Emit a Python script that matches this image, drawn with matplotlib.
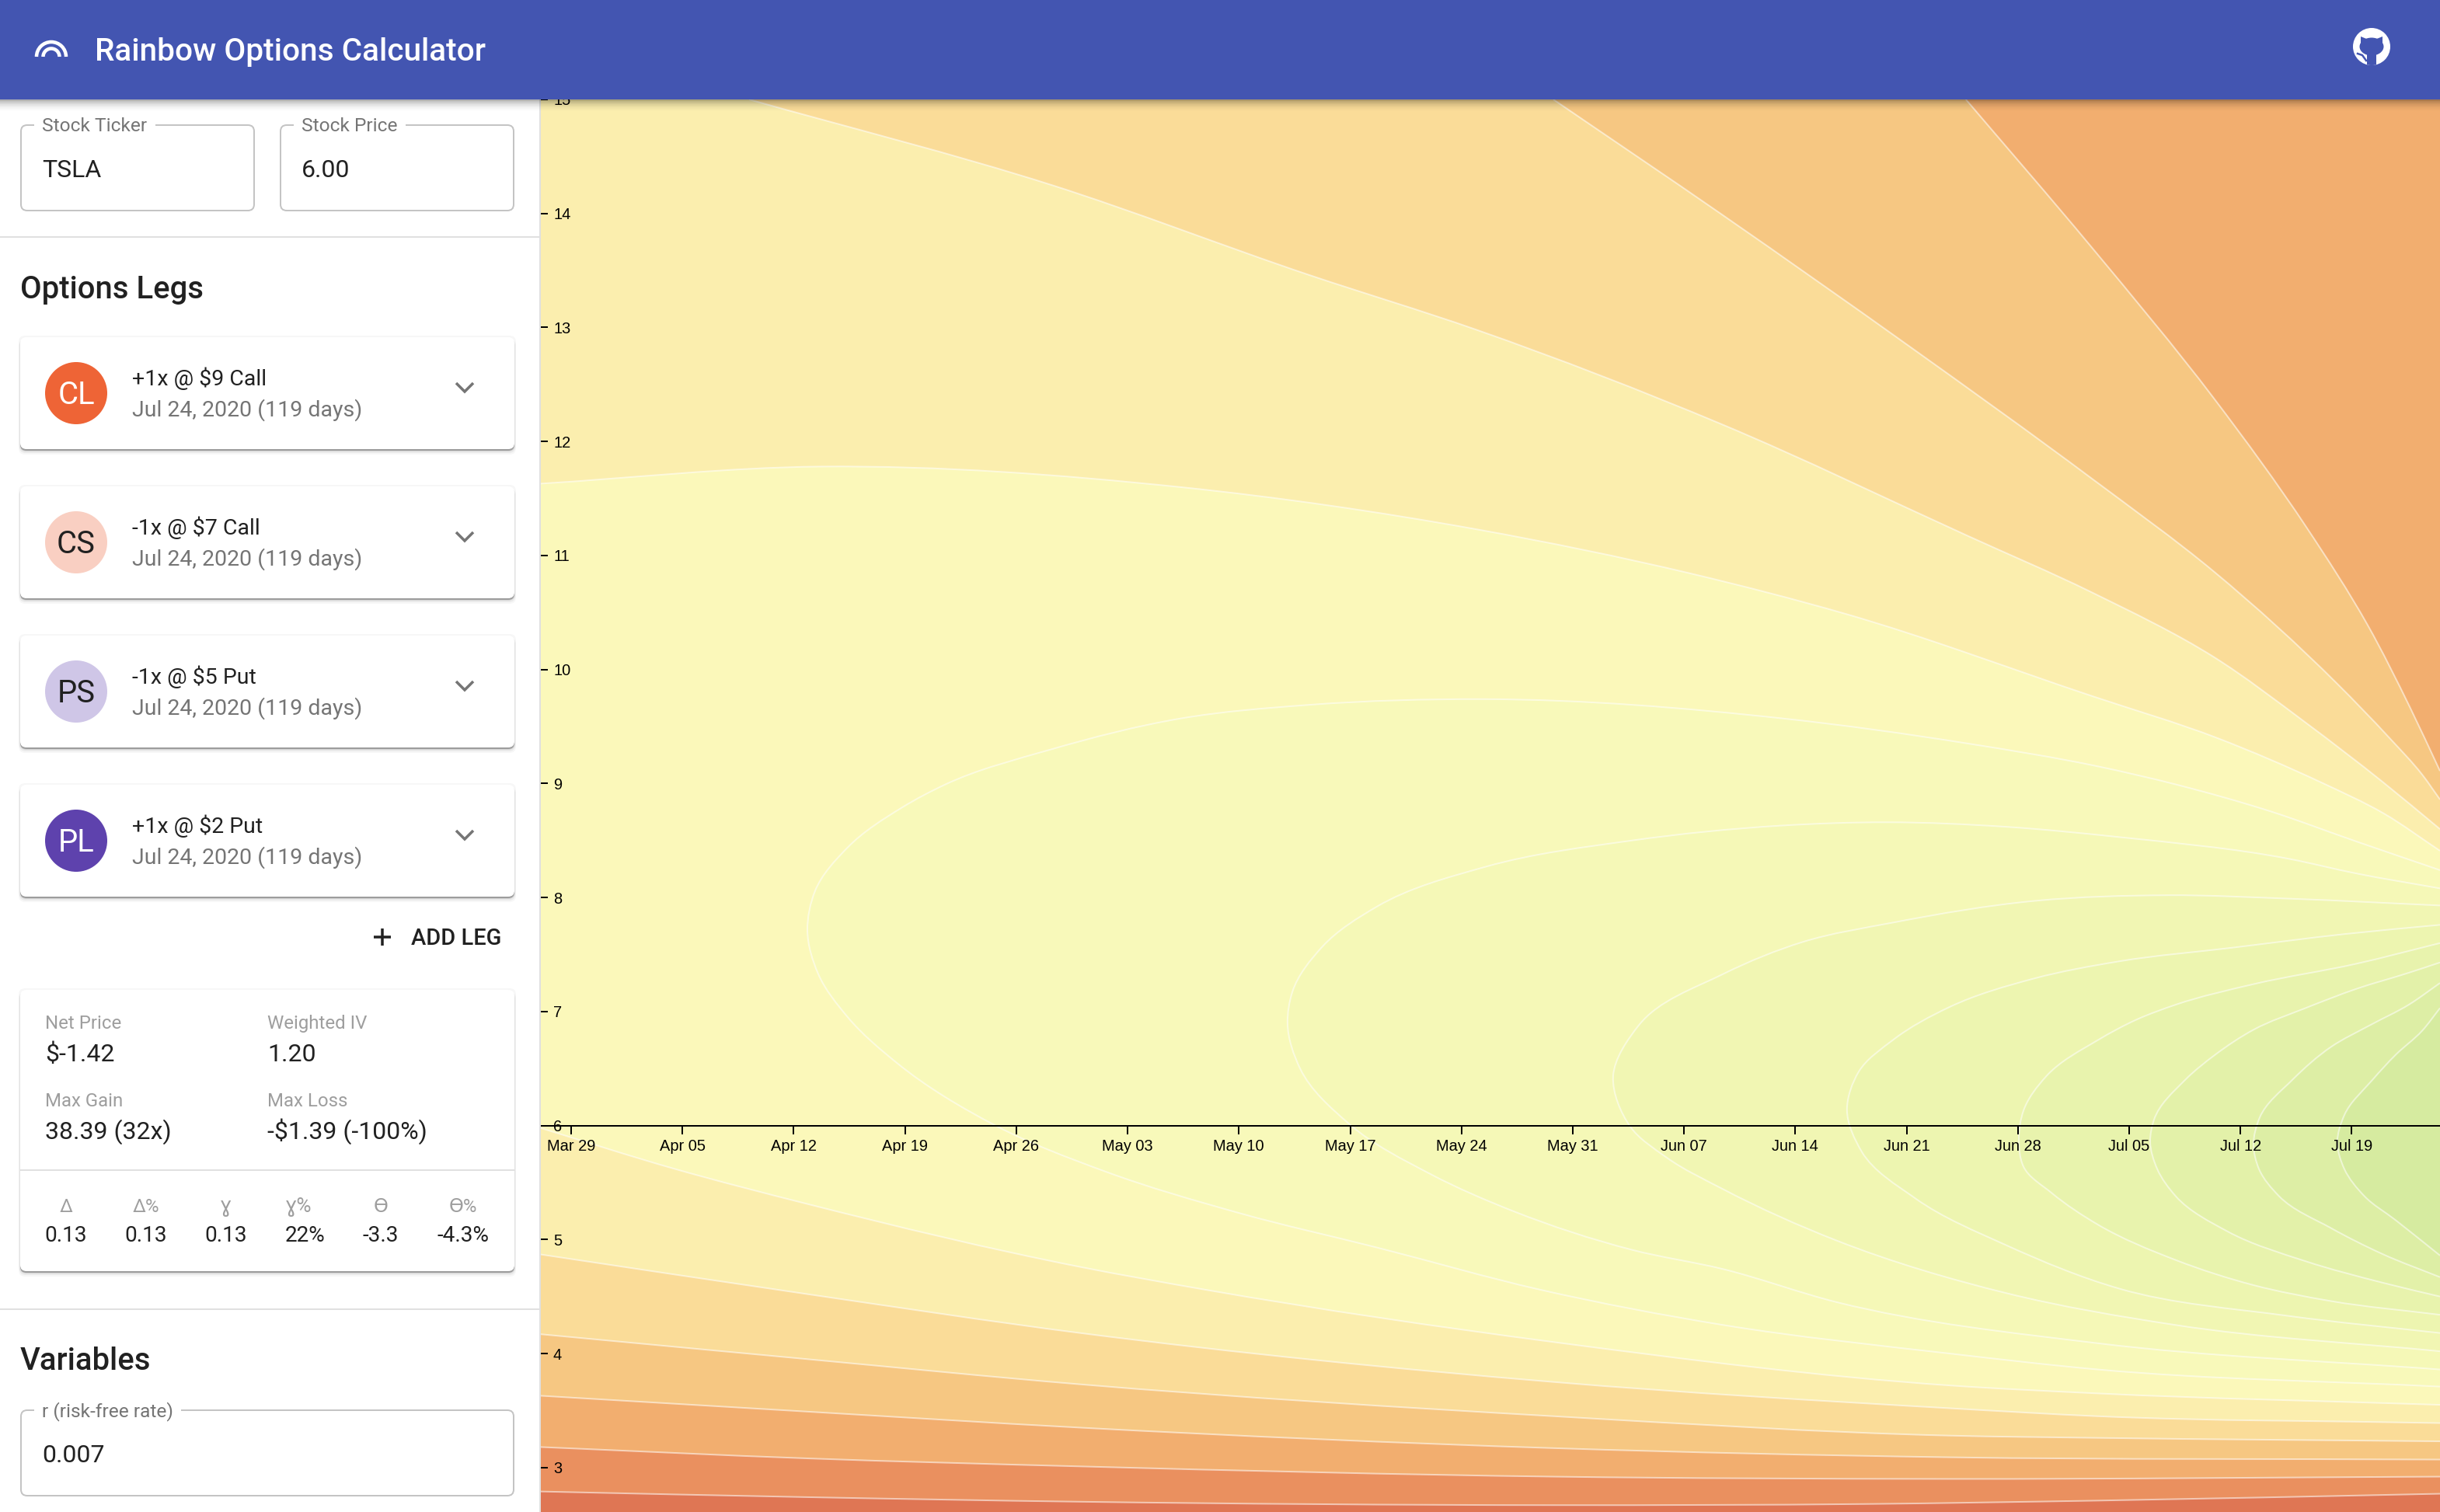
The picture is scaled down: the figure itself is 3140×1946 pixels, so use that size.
#!/usr/bin/env python3
"""Rainbow Options Calculator: profit contour chart with the sidebar next to it."""

import math

import matplotlib

matplotlib.use("Agg")
import matplotlib.pyplot as plt
from matplotlib.patches import Arc, Circle, Ellipse, FancyBboxPatch, PathPatch, Polygon, Rectangle
from matplotlib.path import Path

# contour lines, as (days after Mar 29, stock price)
edge_0_1 = [(-1.96, 2.79), (14.91, 2.74), (32.01, 2.70), (61.83, 2.67), (81.38, 2.68), (96.04, 2.71), (117.55, 2.77)]
edge_1_2 = [(-1.96, 3.18), (14.91, 3.08), (32.01, 3.01), (61.83, 2.92), (86.71, 2.90), (117.55, 2.92)]
low_2_3 = [(-1.96, 3.63), (14.91, 3.49), (32.01, 3.35), (61.83, 3.17), (86.71, 3.09), (117.55, 3.07)]
low_3_4 = [(-1.96, 4.17), (14.91, 3.95), (32.01, 3.73), (61.83, 3.45), (86.71, 3.28), (96.04, 3.26), (117.55, 3.23)]
low_4_5 = [(-1.96, 4.87), (14.91, 4.52), (32.01, 4.18), (61.83, 3.75), (86.71, 3.52), (96.04, 3.45), (117.55, 3.39)]
low_5_6 = [(-1.96, 5.98), (6.50, 5.62), (14.91, 5.31), (32.01, 4.76), (39.88, 4.56), (61.83, 4.10), (86.71, 3.72), (96.04, 3.65), (117.55, 3.55)]

high_2_3 = [(87.73, 15.0), (95.60, 13.71), (103.32, 12.38), (109.14, 11.25), (113.0, 10.39), (115.69, 9.66), (117.55, 9.11)]
high_3_4 = [(61.78, 15.0), (72.39, 13.99), (84.02, 12.85), (95.60, 11.68), (103.32, 10.86), (111.05, 9.88), (114.37, 9.40), (116.42, 9.08), (117.55, 8.86)]
high_4_5 = [(11.20, 15.0), (30.21, 14.25), (46.43, 13.46), (56.94, 12.98), (72.39, 12.15), (87.88, 11.17), (95.60, 10.68), (103.32, 10.11), (109.14, 9.53), (113.98, 9.01), (117.55, 8.60)]
high_5_6 = [(-1.96, 11.63), (15.64, 11.78), (38.32, 11.60), (56.94, 11.23), (70.48, 10.84), (80.11, 10.49), (95.60, 9.77), (103.52, 9.40), (110.07, 9.01), (113.98, 8.74), (117.55, 8.41)]

loop_6_7 = [(117.55, 8.24), (112.32, 8.49), (106.79, 8.76), (100.98, 8.99), (96.04, 9.15), (87.88, 9.35), (76.25, 9.57),
            (57.38, 9.74), (46.43, 9.69), (38.32, 9.57), (30.21, 9.30), (23.51, 8.99), (20.82, 8.79), (17.40, 8.44),
            (15.35, 8.06), (14.86, 7.71), (15.54, 7.33), (17.40, 6.95), (20.48, 6.55), (26.69, 6.00), (33.53, 5.60),
            (42.08, 5.23), (50.68, 4.93), (60.95, 4.56), (72.48, 4.25), (86.71, 4.00), (96.04, 3.86), (117.55, 3.71)]
loop_7_8 = [(117.55, 8.08), (112.32, 8.21), (108.02, 8.34), (97.36, 8.53), (90.27, 8.62), (82.80, 8.66), (76.03, 8.63),
            (66.72, 8.50), (57.53, 8.27), (50.68, 7.92), (47.26, 7.57), (45.36, 7.17), (45.06, 6.90), (45.85, 6.50),
            (48.97, 6.01), (54.11, 5.57), (59.24, 5.25), (66.72, 4.91), (72.48, 4.74), (79.62, 4.45), (96.04, 4.09), (117.55, 3.86)]
loop_8_9 = [(117.55, 7.93), (108.02, 7.99), (100.59, 8.02), (92.03, 7.97), (83.14, 7.78), (77.47, 7.61), (72.48, 7.33),
            (67.16, 6.88), (65.54, 6.43), (66.62, 5.99), (68.90, 5.72), (72.48, 5.44), (79.62, 4.99), (90.27, 4.53),
            (100.93, 4.25), (117.55, 4.02)]
loop_9_10 = [(117.55, 7.76), (111.60, 7.68), (104.50, 7.56), (97.36, 7.44), (92.03, 7.29), (86.71, 7.04), (83.14, 6.75),
             (80.98, 6.47), (80.25, 6.14), (81.18, 5.77), (84.56, 5.36), (90.27, 4.95), (97.36, 4.57), (108.02, 4.33), (117.55, 4.18)]
loop_10_11 = [(117.55, 7.60), (112.32, 7.42), (105.82, 7.24), (100.93, 7.06), (98.48, 6.93), (96.04, 6.75), (92.77, 6.43), (91.35, 6.13),
              (91.06, 5.89), (91.35, 5.64), (93.11, 5.41), (96.04, 5.13), (100.93, 4.82), (105.82, 4.60), (110.70, 4.46), (117.55, 4.34)]
loop_11_12 = [(117.55, 7.43), (115.59, 7.34), (112.32, 7.20), (109.09, 7.03), (105.82, 6.84), (103.40, 6.62), (101.52, 6.40),
              (99.56, 6.05), (99.32, 5.86), (99.76, 5.62), (100.93, 5.38), (104.20, 5.07), (109.09, 4.81), (113.98, 4.62), (117.55, 4.50)]
loop_12_13 = [(117.55, 7.25), (115.59, 7.06), (113.15, 6.88), (110.70, 6.69), (108.26, 6.40), (106.21, 6.07), (105.82, 5.83),
              (106.16, 5.62), (107.43, 5.38), (110.70, 5.10), (113.98, 4.87), (117.55, 4.67)]
loop_13_14 = [(117.55, 7.03), (116.42, 6.83), (114.76, 6.62), (113.30, 6.40), (111.53, 6.09), (111.09, 5.85), (111.53, 5.62),
              (112.80, 5.38), (114.76, 5.17), (117.55, 4.86)]

band_colors = ["#df7654", "#ea905f", "#f2ae6f", "#f6c782", "#fadc98", "#fbeeae", "#fbf8ba", "#f8f9ba",
               "#f5f8b7", "#f1f6b3", "#edf5b0", "#e8f3ad", "#e3f1a9", "#ddeea5", "#d6eba0"]

x_ticks = [0, 7, 14, 21, 28, 35, 42, 49, 56, 63, 70, 77, 84, 91, 98, 105, 112]
x_labels = ["Mar 29", "Apr 05", "Apr 12", "Apr 19", "Apr 26", "May 03", "May 10", "May 17", "May 24",
            "May 31", "Jun 07", "Jun 14", "Jun 21", "Jun 28", "Jul 05", "Jul 12", "Jul 19"]
y_ticks = [3, 4, 5, 6, 7, 8, 9, 10, 11, 12, 13, 14, 15]

leg_titles = ["+1x @ $9 Call", "-1x @ $7 Call", "-1x @ $5 Put", "+1x @ $2 Put"]
leg_dates = ["Jul 24, 2020 (119 days)"] * 4
leg_badges = ["CL", "CS", "PS", "PL"]
leg_badge_colors = ["#ee6436", "#f9cfc2", "#cfc6e7", "#5e42ad"]
leg_badge_text = ["#ffffff", "#212121", "#212121", "#ffffff"]

greek_names = ["Δ", "Δ%", "ɣ", "ɣ%", "ϴ", "ϴ%"]
greek_values = ["0.13", "0.13", "0.13", "22%", "-3.3", "-4.3%"]
greek_name_x = [85, 188, 291, 384, 490, 596]
greek_value_x = [85, 188, 291, 393, 490, 596]

PX = 72 / 200  # points per output pixel
Y_STRETCH = 146.7 / 20.46  # one price unit against one day, on screen
UI_FONT = ["Roboto", "DejaVu Sans"]
INDIGO = "#4355b1"
DARK = "#212121"
GREY = "#757575"
LIGHT = "#9e9e9e"


def chord(a, b):
    return math.hypot(b[0] - a[0], (b[1] - a[1]) * Y_STRETCH) or 1.0


def curve_parts(points):
    """Smooth bezier through the read points, tangents weighted by on-screen spacing."""
    n = len(points)
    tangents = []
    for i in range(n):
        a = points[max(i - 1, 0)]
        b = points[i]
        c = points[min(i + 1, n - 1)]
        h0, h1 = chord(a, b), chord(b, c)
        if i == 0 or i == n - 1:
            h = chord(a, c)
            tangents.append(((c[0] - a[0]) / h, (c[1] - a[1]) / h))
        else:
            tangents.append(tuple(((b[k] - a[k]) / h0 * h1 + (c[k] - b[k]) / h1 * h0) / (h0 + h1) for k in (0, 1)))
    verts, codes = [], []
    for i in range(n - 1):
        p1, p2 = points[i], points[i + 1]
        h = chord(p1, p2)
        c1 = (p1[0] + tangents[i][0] * h / 3, p1[1] + tangents[i][1] * h / 3)
        c2 = (p2[0] - tangents[i + 1][0] * h / 3, p2[1] - tangents[i + 1][1] * h / 3)
        verts += [c1, c2, p2]
        codes += [Path.CURVE4] * 3
    return verts, codes


def build_path(*pieces):
    verts, codes = [], []
    for points in pieces:
        verts.append(points[0])
        codes.append(Path.LINETO if verts[:-1] else Path.MOVETO)
        v, c = curve_parts(points)
        verts += v
        codes += c
    return Path(verts, codes)


fig = plt.figure(figsize=(15.7, 9.73), dpi=200, facecolor="white")

# ---- chart ----
ax = fig.add_axes([695 / 3140, 0, 1 - 695 / 3140, 1 - 128 / 1946])
ax.set_xlim(-1.955, 117.55)
ax.set_ylim(2.61, 15.0)
ax.set_facecolor(band_colors[0])
ax.set_axisbelow(False)

x0, x1 = ax.get_xlim()
y0, y1 = ax.get_ylim()
top_left = [(x0, y1)]
top_right = [(x1, y1)]

regions = [
    build_path(edge_0_1, top_right, top_left),
    build_path(edge_1_2, top_right, top_left),
    build_path(low_2_3, high_2_3[::-1], top_left),
    build_path(low_3_4, high_3_4[::-1], top_left),
    build_path(low_4_5, high_4_5[::-1], top_left),
    build_path(low_5_6, high_5_6[::-1]),
    build_path(loop_6_7),
    build_path(loop_7_8),
    build_path(loop_8_9),
    build_path(loop_9_10),
    build_path(loop_10_11),
    build_path(loop_11_12),
    build_path(loop_12_13),
    build_path(loop_13_14),
]
for k, region in enumerate(regions):
    ax.add_patch(PathPatch(region, facecolor=band_colors[k + 1], edgecolor="none", zorder=1 + k * 0.01))

for line in [edge_0_1, edge_1_2, low_2_3, low_3_4, low_4_5, low_5_6, high_2_3, high_3_4, high_4_5, high_5_6,
             loop_6_7, loop_7_8, loop_8_9, loop_9_10, loop_10_11, loop_11_12, loop_12_13, loop_13_14]:
    ax.add_patch(PathPatch(build_path(line), fill=False, edgecolor="white", alpha=0.55, lw=2 * PX, zorder=1.5))

for name in ["top", "right", "left"]:
    ax.spines[name].set_visible(False)
ax.spines["bottom"].set_position(("data", 6))
ax.spines["bottom"].set_linewidth(2 * PX)

ax.set_xticks(x_ticks)
ax.set_xticklabels(x_labels, family="Liberation Sans", fontsize=20 * PX)
ax.tick_params(axis="x", length=11.5 * PX, width=2 * PX, pad=6 * PX)
ax.set_yticks(y_ticks)
ax.set_yticklabels([str(v) for v in y_ticks], family="Liberation Sans", fontsize=20 * PX, ha="left")
ax.tick_params(axis="y", direction="in", length=10 * PX, width=2 * PX, pad=-17 * PX)

# ---- page chrome, in output pixels ----
ui = fig.add_axes([0, 0, 1, 1], zorder=5)
ui.set_xlim(0, 3140)
ui.set_ylim(1946, 0)
ui.axis("off")


def text(x, y, s, px, color=DARK, weight="normal", ha="left"):
    ui.text(x, y, s, fontsize=px * PX, color=color, fontweight=weight, ha=ha, va="baseline", family=UI_FONT)


def rounded(x, y, w, h, radius=8, **kw):
    ui.add_patch(FancyBboxPatch((x, y), w, h, boxstyle=f"round,pad=0,rounding_size={radius}", **kw))


def card(x, y, w, h):
    for dy, grow, alpha in [(5, 2, 0.03), (4, 1, 0.05), (3, 0, 0.10), (2, 0, 0.22), (0, 2, 0.03)]:
        rounded(x - grow, y + dy - grow, w + 2 * grow, h + 2 * grow, facecolor="black", edgecolor="none", alpha=alpha)
    rounded(x, y, w, h, facecolor="white", edgecolor="none")


def field(x, y, w, h, label, value, gap):
    rounded(x, y, w, h, facecolor="white", edgecolor="#c4c4c4", lw=2 * PX)
    ui.add_patch(Rectangle((gap[0], y - 3), gap[1] - gap[0], 6, facecolor="white", edgecolor="none"))
    text(x + 27, y + 8, label, 24.5, GREY)
    text(x + 27, y + 67, value, 32)


ui.add_patch(Rectangle((0, 128), 695, 1818, facecolor="white", edgecolor="none"))
ui.add_patch(Rectangle((694, 128), 2, 1818, facecolor="#e0e0e0", edgecolor="none"))

field(27, 161, 300, 110, "Stock Ticker", "TSLA", (44, 200))
field(361, 161, 300, 110, "Stock Price", "6.00", (378, 522))
ui.add_patch(Rectangle((0, 304), 694, 2, facecolor="#e0e0e0", edgecolor="none"))

text(26, 384, "Options Legs", 40, weight="medium")

for i, title in enumerate(leg_titles):
    top = 434 + 192 * i
    card(26, top, 636, 144)
    ui.add_patch(Circle((98, top + 72), 40, facecolor=leg_badge_colors[i], edgecolor="none"))
    ui.text(98, top + 86, leg_badges[i], fontsize=40 * PX, color=leg_badge_text[i], ha="center", va="baseline", family=UI_FONT)
    text(170, top + 62, title, 28.5)
    text(170, top + 102, leg_dates[i], 28.5, GREY)
    ui.plot([587, 598, 609], [top + 59, top + 70, top + 59], color=GREY, lw=3.5 * PX, solid_capstyle="butt", solid_joinstyle="miter")

ui.plot([481, 503], [1206, 1206], color=DARK, lw=3.5 * PX, solid_capstyle="butt")
ui.plot([492, 492], [1195, 1217], color=DARK, lw=3.5 * PX, solid_capstyle="butt")
text(529, 1216, "ADD LEG", 29, weight="medium")

card(26, 1274, 636, 362)
text(58, 1324, "Net Price", 24, LIGHT)
text(58, 1366, "$-1.42", 32)
text(344, 1324, "Weighted IV", 24, LIGHT)
text(344, 1366, "1.20", 32)
text(58, 1424, "Max Gain", 24, LIGHT)
text(58, 1466, "38.39 (32x)", 32)
text(344, 1424, "Max Loss", 24, LIGHT)
text(344, 1466, "-$1.39 (-100%)", 32)
ui.add_patch(Rectangle((26, 1505), 636, 2, facecolor="#e0e0e0", edgecolor="none"))
for nx, vx, name, value in zip(greek_name_x, greek_value_x, greek_names, greek_values):
    text(nx, 1560, name, 26 if "ɣ" in name else 24, LIGHT, ha="center")
    text(vx, 1598, value, 28, ha="center")

ui.add_patch(Rectangle((0, 1684), 694, 2, facecolor="#e0e0e0", edgecolor="none"))
text(26, 1763, "Variables", 40, weight="medium")
field(27, 1815, 634, 110, "r (risk-free rate)", "0.007", (44, 233))

# header with its soft shadow over the page
for i, alpha in enumerate([0.30, 0.22, 0.16, 0.11, 0.07, 0.04, 0.02]):
    ui.add_patch(Rectangle((0, 128 + i * 2), 3140, 2, facecolor="black", edgecolor="none", alpha=alpha))
ui.add_patch(Rectangle((0, 0), 3140, 128, facecolor=INDIGO, edgecolor="none"))
text(122, 78, "Rainbow Options Calculator", 40.5, "white", weight="medium")
ui.add_patch(Arc((66, 73), 38, 38, theta1=180, theta2=360, color="white", lw=4.5 * PX))
ui.add_patch(Arc((66, 73), 21, 21, theta1=180, theta2=360, color="white", lw=4.5 * PX))

# github mark
disc = Circle((3052, 60), 24, facecolor="white", edgecolor="none")
ui.add_patch(disc)
cat = [
    Ellipse((3052, 60), 31, 23, facecolor=INDIGO, edgecolor="none"),
    Polygon([(3038, 47), (3048, 51), (3038, 58)], facecolor=INDIGO, edgecolor="none"),
    Polygon([(3066, 47), (3056, 51), (3066, 58)], facecolor=INDIGO, edgecolor="none"),
    Rectangle((3046, 68), 12, 18, facecolor=INDIGO, edgecolor="none"),
]
for shape in cat:
    ui.add_patch(shape)
    shape.set_clip_path(disc)
tail, = ui.plot([3034, 3040, 3045], [69, 71, 78], color=INDIGO, lw=2.5 * PX)
tail.set_clip_path(disc)

fig.savefig("out.png", dpi=200)
